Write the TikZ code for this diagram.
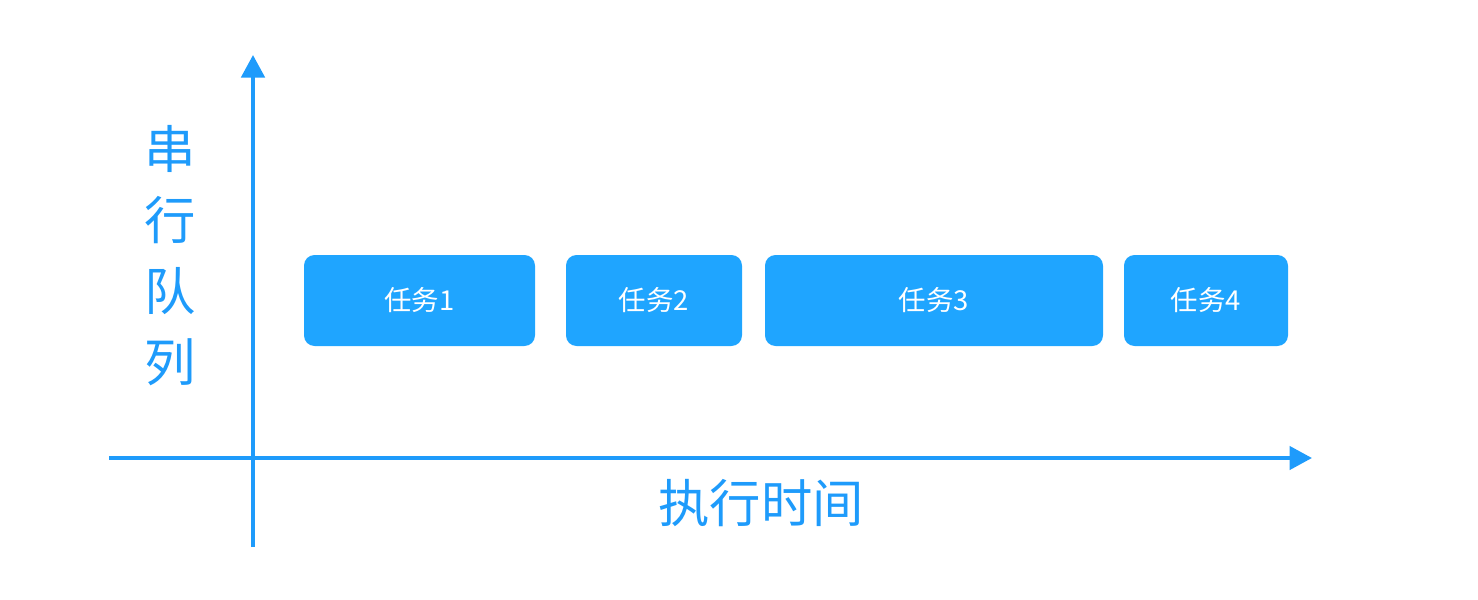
\documentclass[tikz,border=0pt]{standalone}
\usepackage{fontspec}
\setmainfont{Noto Sans CJK SC}
\usetikzlibrary{arrows.meta}
\definecolor{axisblue}{HTML}{1E9BFB}
\definecolor{boxblue}{HTML}{1FA5FF}
\tikzset{
  axis/.style={draw=axisblue, line width=1.15pt, -{Triangle[length=6.4pt,width=6.6pt]}},
  task/.style={fill=boxblue, draw=none, rounded corners=3pt, minimum height=91*0.01cm,
    inner sep=0pt, text=white, font=\fontsize{7.8pt}{9.5pt}\selectfont},
  axlabel/.style={text=axisblue, inner sep=0pt, font=\fontsize{14.6pt}{20.2pt}\selectfont}
}
\begin{document}
\begin{tikzpicture}[x=0.01cm,y=-0.01cm]
\useasboundingbox (0,0) rectangle (1478,600);
\coordinate (yb) at (253,547);
\coordinate (yt) at (253,55);
\coordinate (xl) at (109,458);
\coordinate (xr) at (1312,458);
\draw[axis] (yb) -- (yt);
\draw[axis] (xl) -- (xr);
\node[task, minimum width=231*0.01cm] (t1) at (419.5,300.5) {任务1};
\node[task, minimum width=176*0.01cm] (t2) at (654,300.5) {任务2};
\node[task, minimum width=338*0.01cm] (t3) at (934,300.5) {任务3};
\node[task, minimum width=164*0.01cm] (t4) at (1206,300.5) {任务4};
\node[axlabel, align=center] (ylab) at (170,256) {串\\行\\队\\列};
\node[axlabel] (xlab) at (761,503) {执行时间};
\end{tikzpicture}
\end{document}
